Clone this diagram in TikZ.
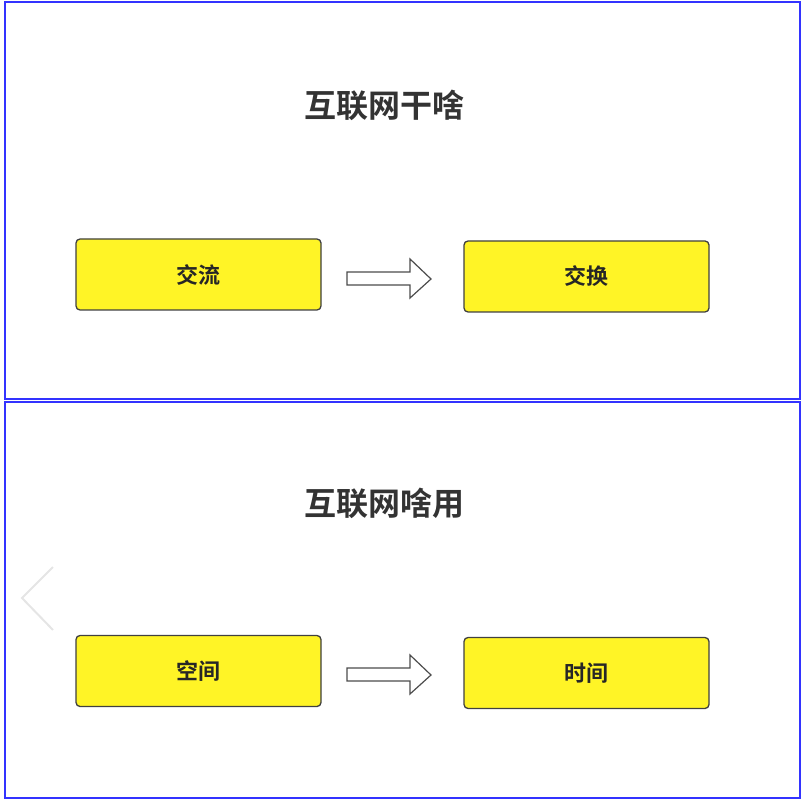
\documentclass[tikz,border=0pt]{standalone}
\usepackage{fontspec}
\newfontfamily\cjk{Noto Sans CJK SC Bold}
\begin{document}
\begin{tikzpicture}[x=1pt,y=-1pt,
  panel/.style={draw=blue!80,line width=1.2pt},
  ybox/.style={draw=black!75,line width=1.3pt,fill=yellow!85!white,rounded corners=4pt,minimum width=245pt,minimum height=71pt,font=\cjk\fontsize{22}{22}\selectfont,text=black!85},
  title/.style={font=\cjk\fontsize{32}{32}\selectfont,text=black!80},
  harrow/.style={draw=black!70,line width=1.2pt,fill=white}]
\useasboundingbox (0,0) rectangle (806,802);
\draw[panel] (5,2) rectangle (800,399);
\draw[panel] (5,402) rectangle (800,798);
\node[title] (t1) at (384,105) {互联网干啥};
\node[ybox] (a1) at (198.5,274.5) {交流};
\node[ybox] (b1) at (586.5,276.5) {交换};
\node[title] (t2) at (384,503) {互联网啥用};
\node[ybox] (a2) at (198.5,671) {空间};
\node[ybox] (b2) at (586.5,673) {时间};
\foreach \y in {279,675}{
\draw[harrow] (347,\y-7) -- (410,\y-7) -- (410,\y-20) -- (431,\y) -- (410,\y+19) -- (410,\y+6) -- (347,\y+6) -- cycle;}
\draw[black!10,line width=2pt] (53,567) -- (22,598) -- (53,630);
\end{tikzpicture}
\end{document}
